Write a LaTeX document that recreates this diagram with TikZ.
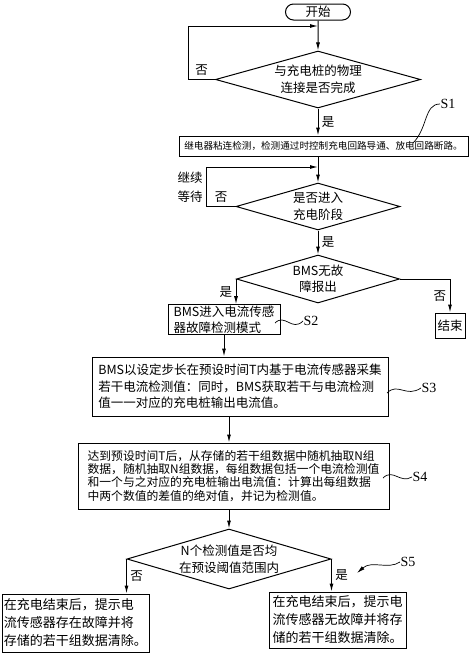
\documentclass[tikz,border=0pt]{standalone}
\usepackage{fontspec}
\setmainfont{Noto Sans CJK SC}
\newfontfamily\tagfont{Liberation Serif}
\usepackage{tikz}
\usetikzlibrary{shapes,arrows,arrows.meta,positioning}

\begin{document}
\begin{tikzpicture}[x=1pt,y=-1pt,>={Latex[length=8pt,width=4pt]},line width=1pt,
  font=\fontsize{12.5}{16.5}\selectfont,
  term/.style={draw,rounded rectangle,inner sep=0pt},
  decision/.style={draw,diamond,inner sep=0pt,align=center},
  block/.style={draw,inner sep=2pt,align=left},
  tag/.style={inner sep=0pt,anchor=west,font=\tagfont\fontsize{14}{14}\selectfont}]
  \useasboundingbox (0,0) rectangle (474,653);
  \node[term,minimum width=65,minimum height=16] (start) at (318,12) {开始};
  \node[decision,aspect=3.6,minimum width=205,minimum height=57] (d1) at (318,79.5) {与充电桩的物理\\连接是否完成};
  \node[block,align=center,inner sep=1pt,minimum width=289,minimum height=20,font=\fontsize{9.6}{11}\selectfont] (s1) at (323.5,146) {继电器粘连检测，检测通过时控制充电回路导通、放电回路断路。};
  \node[decision,aspect=3.5,minimum width=164,minimum height=47] (d2) at (318,206.5) {是否进入\\充电阶段};
  \node[decision,aspect=3.4,minimum width=163,minimum height=48] (d3) at (318,279) {BMS无故\\障报出};
  \node[block,minimum width=30,minimum height=25,inner sep=1pt] (end) at (450,325.5) {结束};
  \node[block,inner sep=1pt,minimum width=112,minimum height=29,font=\fontsize{12.5}{16}\selectfont] (s2) at (224,319.5) {BMS进入电流传感\\器故障检测模式};
  \node[block,minimum width=296,minimum height=59] (s3) at (240,386.5) {BMS以设定步长在预设时间T内基于电流传感器采集\\若干电流检测值：同时，BMS获取若干与电流检测\\值一一对应的充电桩输出电流值。};
  \node[block,minimum width=311,minimum height=66,font=\fontsize{11.8}{13.2}\selectfont] (s4) at (233.5,476) {达到预设时间T后，从存储的若干组数据中随机抽取N组\\数据，随机抽取N组数据，每组数据包括一个电流检测值\\和一个与之对应的充电桩输出电流值：计算出每组数据\\中两个数值的差值的绝对值，并记为检测值。};
  \node[decision,aspect=3.4,minimum width=204,minimum height=60] (d5) at (229,559) {N个检测值是否均\\在预设阈值范围内};
  \node[block,minimum width=145,minimum height=58,font=\fontsize{13}{18}\selectfont] (nok) at (75.5,623) {在充电结束后，提示电\\流传感器存在故障并将\\存储的若干组数据清除。};
  \node[block,minimum width=137,minimum height=56,font=\fontsize{13}{18}\selectfont] (ok) at (337.5,620) {在充电结束后，提示电\\流传感器无故障并将存\\储的若干组数据清除。};
  % step tags
  \node[tag] (t1) at (440,104) {S1};
  \node[tag] (t2) at (303,321) {S2};
  \node[tag] (t3) at (421,388) {S3};
  \node[tag] (t4) at (412,477) {S4};
  \node[tag] (t5) at (400,562) {S5};
  \coordinate (j1) at (318,26);
  \coordinate (j2) at (318,167);
  \coordinate (c1) at (413,143);
  \coordinate (c2) at (275,323);
  \coordinate (c3) at (387,393);
  \coordinate (c4) at (383,478);
  \coordinate (c5) at (357,573);
  % flow
  \draw[->] (start) -- (d1);
  \draw[->] (d1.west) -- node[above]{否} ++(-27,0) |- (j1);
  \draw[->] (d1.south) -- node[right]{是} (d1.south |- s1.north);
  \draw[->] (s1.south -| d2) -- (d2);
  \draw[->] (d2.west) -- node[above]{否} ++(-29,0) |- node[left,pos=0.25,align=center,font=\fontsize{12.5}{19}\selectfont]{继续\\等待} (j2);
  \draw[->] (d2) -- node[right]{是} (d3);
  \draw[->] (d3.west) -- node[left]{是} (d3.west |- s2.north);
  \draw[->] (d3.east) -| node[left,pos=0.75]{否} (end);
  \draw[->] (s2.south) -- (s2.south |- s3.north);
  \draw[->] (s3.south -| d5) -- (s4.north -| d5);
  \draw[->] (s4.south -| d5) -- (d5);
  \draw[->] (d5.west) -- node[right]{否} (d5.west |- nok.north);
  \draw[->] (d5.east) -- node[right]{是} (d5.east |- ok.north);
  % squiggles
  \draw[line width=0.7pt] (t1.west) .. controls (424,104) and (428,128) .. (c1);
  \draw[line width=0.7pt] (c2) .. controls (285,313) and (292,332) .. (t2.west);
  \draw[line width=0.7pt] (c3) .. controls (398,382) and (406,398) .. (t3.west);
  \draw[line width=0.7pt] (c4) .. controls (393,468) and (400,484) .. (t4.west);
  \draw[<-,line width=0.7pt] (c5) .. controls (372,560) and (388,570) .. (t5.west);
\end{tikzpicture}
\end{document}
